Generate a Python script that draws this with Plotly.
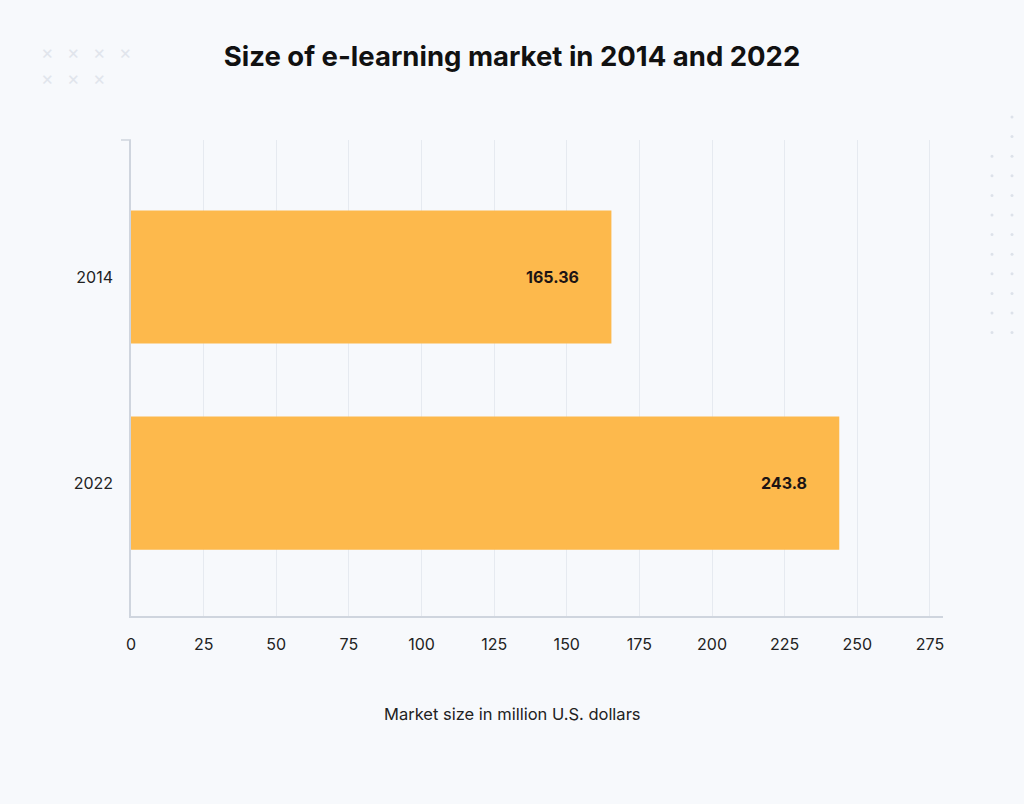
import plotly.graph_objects as go

years = ["2014", "2022"]
market_size = [165.36, 243.8]
value_labels = ["165.36", "243.8"]
x_ticks = [0, 25, 50, 75, 100, 125, 150, 175, 200, 225, 250, 275]

BG = "#f7f9fc"
BAR = "#FDB94C"
FONT = "Inter, Lato, sans-serif"

fig = go.Figure()
fig.add_trace(go.Bar(
    y=years, x=market_size, orientation="h",
    marker=dict(color=BAR, line=dict(width=0)),
    width=0.646, hoverinfo="x+y",
))

for idx, (v, lab) in enumerate(zip(market_size, value_labels)):
    fig.add_annotation(x=v, y=idx, xref="x", yref="y", text=f"<b>{lab}</b>", showarrow=False,
                       xanchor="right", xshift=-30,
                       font=dict(family=FONT, size=16, color="#1c1414"))

# axis title centred on the page
fig.add_annotation(xref="paper", yref="paper", x=(512 - 131) / 812, y=(616 - 714) / 476,
                   text="Market size in million U.S. dollars", showarrow=False,
                   xanchor="center", yanchor="middle",
                   font=dict(family=FONT, size=16.5, color="#222222"))

# decorative marks
for cx, cy in [(46, 52), (72, 52), (98, 52), (124, 52), (46, 78), (72, 78), (98, 78)]:
    fig.add_annotation(xref="paper", yref="paper", x=(cx - 7 - 131) / 812, y=(616 - cy + 13) / 476,
                       text="×", showarrow=False, font=dict(family=FONT, size=19, color="#e1e5ec"))
shapes = []
for col_x in [992, 1012]:
    for k in range(12):
        cy = 117 + k * 19.6
        if col_x == 992 and k < 2:
            continue
        px = (col_x - 131) / 812
        py = (616 - cy) / 476
        shapes.append(dict(type="circle", xref="paper", yref="paper",
                           x0=px - 1.5 / 812, x1=px + 1.5 / 812,
                           y0=py - 1.5 / 476, y1=py + 1.5 / 476,
                           fillcolor="#dde2ea", line=dict(width=0), layer="below"))
# top tick on y axis
shapes.append(dict(type="line", xref="paper", yref="paper",
                   x0=-10 / 812, x1=0, y0=1, y1=1, line=dict(color="#cfd5de", width=1.5)))

fig.update_layout(
    width=1024, height=804,
    paper_bgcolor=BG, plot_bgcolor=BG,
    margin=dict(l=131, r=81, t=140, b=188),
    showlegend=False,
    shapes=shapes,
    title=dict(text="<b>Size of e-learning market in 2014 and 2022</b>",
               x=0.5, xanchor="center", y=1 - 56 / 804, yanchor="middle",
               font=dict(family=FONT, size=27.5, color="#111111")),
    font=dict(family=FONT, color="#222222"),
)
fig.update_xaxes(
    range=[0, 279.5], tickvals=x_ticks, ticks="",
    showgrid=True, gridcolor="#e6eaf0", gridwidth=1,
    showline=True, linecolor="#cfd5de", linewidth=1.5,
    zeroline=False,
    tickfont=dict(family=FONT, size=16, color="#222222"),
    ticklabelstandoff=13,
    fixedrange=True,
)
fig.update_yaxes(
    type="category", categoryorder="array", categoryarray=years, autorange=False,
    range=[1.645, -0.665], ticks="",
    showgrid=False, showline=True, linecolor="#cfd5de", linewidth=1.5,
    tickfont=dict(family=FONT, size=16, color="#222222"),
    ticklabelstandoff=13,
    fixedrange=True,
)

fig.write_html("out.html")
